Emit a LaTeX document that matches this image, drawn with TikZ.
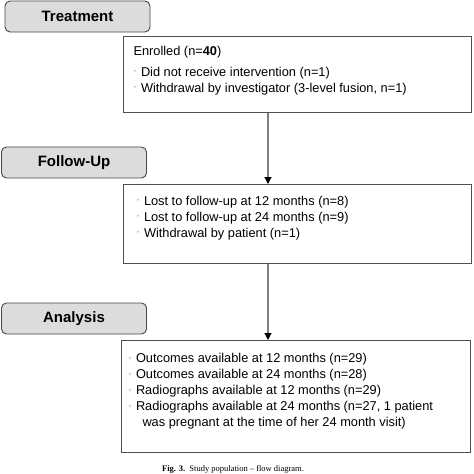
\documentclass[tikz,border=0pt]{standalone}
\usepackage{fontspec}
\setmainfont{Liberation Sans}
\newfontfamily\capfont{Liberation Serif}
\usetikzlibrary{arrows.meta,positioning}
\definecolor{hdrfill}{HTML}{DCDCDC}
\definecolor{hdredge}{HTML}{464646}
\definecolor{boxedge}{HTML}{505050}
\definecolor{flowc}{HTML}{808080}
\definecolor{tickc}{HTML}{7A7A7A}
\tikzset{
  stage/.style={rectangle, rounded corners=5pt, draw=hdredge, fill=hdrfill, line width=0.9pt,
    minimum width=145pt, minimum height=31pt, inner sep=0pt, font=\fontsize{15}{18}\selectfont\bfseries},
  outbox/.style={rectangle, draw=boxedge, line width=1pt, anchor=north west, inner xsep=10pt,
    font=\fontsize{12.8}{16}\selectfont},
  flow/.style={-{Triangle[length=7pt, width=7pt, black]}, draw=flowc, line width=1.1pt},
}
\newcommand{\itm}{\makebox[7.5pt][l]{\raisebox{2.5pt}{\color{tickc}\fontsize{8}{8}\selectfont -}}}

\begin{document}
\begin{tikzpicture}[x=1pt, y=-1pt]
  \useasboundingbox (0,0) rectangle (474,474);
  \node[stage] (treat) at (77.5,16.5) {Treatment};
  \node[stage] (fol) at (74,162.5) {Follow-Up};
  \node[stage] (ana) at (74,318.5) {Analysis};
  % outcome boxes
  \node[outbox, inner ysep=9.5pt] (enrol) at (123,36) {\parbox[t][57pt][t]{328pt}{%
    Enrolled (n=\textbf{40})\\[5pt]
    \itm Did not receive intervention (n=1)\\
    \itm Withdrawal by investigator (3-level fusion, n=1)}};
  \node[outbox, inner ysep=11.5pt, inner xsep=13pt] (lost) at (123,184) {\parbox[t][56pt][t]{322pt}{%
    \itm Lost to follow-up at 12 months (n=8)\\
    \itm Lost to follow-up at 24 months (n=9)\\
    \itm Withdrawal by patient (n=1)}};
  \node[outbox, inner ysep=13pt, inner xsep=7pt] (avail) at (121,340) {\parbox[t][86pt][t]{335pt}{%
    \itm Outcomes available at 12 months (n=29)\\
    \itm Outcomes available at 24 months (n=28)\\
    \itm Radiographs available at 12 months (n=29)\\
    \itm Radiographs available at 24 months (n=27, 1 patient\\
    \hspace*{14pt}was pregnant at the time of her 24 month visit)}};
  \coordinate (axis) at (268,0);
  \draw[flow] (enrol.south -| axis) -- (lost.north -| axis);
  \draw[flow] (lost.south -| axis) -- (avail.north -| axis);
  \node[font=\capfont\fontsize{8.5}{10}\selectfont, anchor=base] (cap) at (233,471)
    {\textbf{Fig. 3.}\enspace Study population – flow diagram.};
\end{tikzpicture}
\end{document}
